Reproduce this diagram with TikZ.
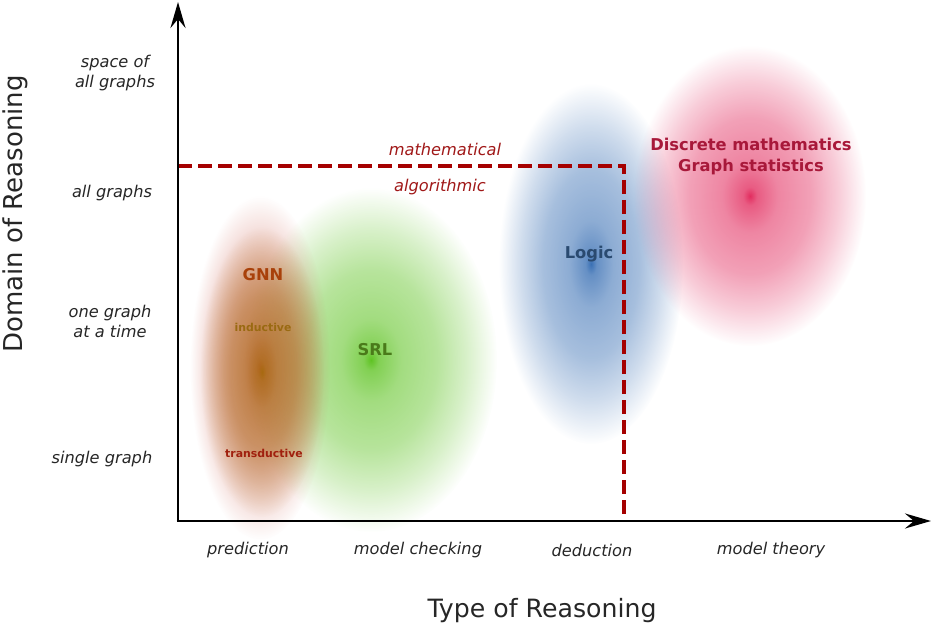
\documentclass[tikz,border=0pt]{standalone}
\usepackage{fontspec}
\setmainfont{DejaVu Sans}
\usetikzlibrary{arrows.meta,fadings}
\pgfdeclareradialshading{blobshade}{\pgfpointorigin}{color(0bp)=(pgftransparent!0); color(1.5bp)=(pgftransparent!22); color(6bp)=(pgftransparent!42); color(13bp)=(pgftransparent!55); color(19bp)=(pgftransparent!76); color(25bp)=(pgftransparent!100); color(50bp)=(pgftransparent!100)}
\pgfdeclarefading{blob}{\pgfuseshading{blobshade}}
\definecolor{dred}{HTML}{A50000}
\definecolor{mathred}{HTML}{A01818}
\definecolor{gnncol}{HTML}{A8400A}
\definecolor{indcol}{HTML}{9A6A12}
\definecolor{trcol}{HTML}{A0200E}
\definecolor{srlcol}{HTML}{4A7A1A}
\definecolor{logcol}{HTML}{2A4A70}
\definecolor{dmcol}{HTML}{A8183A}
\tikzset{
  blobfill/.style={path fading=blob, fit fading=true},
  axis/.style={line width=2.8pt, -{Stealth[length=26pt,width=15pt,inset=9pt]}},
  border/.style={dred, line width=3.6pt, dash pattern=on 14pt off 6pt},
  ylab/.style={font=\fontsize{16.2}{20}\selectfont\itshape, align=center, text=black!85},
  xlab/.style={font=\fontsize{16.2}{20}\selectfont\itshape, text=black!85},
  mlab/.style={font=\fontsize{16.2}{20}\selectfont\itshape, text=mathred},
  big/.style={font=\fontsize{16.3}{20}\selectfont\bfseries},
  small/.style={font=\fontsize{10.9}{13}\selectfont\bfseries},
  title/.style={text=black!85}
}
\begin{document}
\begin{tikzpicture}[x=1pt,y=-1pt]
\useasboundingbox (0,0) rectangle (935,631);
% blobs
\fill[blobfill, color={rgb,255:red,95;green,195;blue,35}] (371,360) ellipse (126 and 172);
\fill[blobfill, color={rgb,255:red,205;green,95;blue,80}] (260,368) ellipse (70 and 172);
\fill[blobfill, color={rgb,255:red,168;green,106;blue,16}] (262,372) ellipse (62 and 145);
\fill[blobfill, color={rgb,255:red,58;green,112;blue,180}] (591,264) ellipse (92 and 180);
\fill[blobfill, color={rgb,255:red,226;green,45;blue,95}] (750,196) ellipse (116 and 150);
% border
\coordinate (dstart) at (178,166);
\coordinate (dcorner) at (624,166);
\coordinate (dend) at (624,519);
\draw[border] (dstart) -- (dcorner) -- (dend);
\node[mlab] (math) at (445,149) {mathematical};
\node[mlab] (algo) at (440,187) {algorithmic};
% blob labels
\node[big, text=gnncol] (gnn) at (263,275) {GNN};
\node[small, text=indcol] (ind) at (263,327) {inductive};
\node[small, text=trcol] (tr) at (264,453) {transductive};
\node[big, text=srlcol] (srl) at (375,350) {SRL};
\node[big, text=logcol] (logic) at (589,254) {Logic};
\node[big, text=dmcol, align=center, font=\fontsize{16.3}{21}\selectfont\bfseries] (dm) at (751,157) {Discrete mathematics\\Graph statistics};
% axes
\coordinate (origin) at (178,521);
\coordinate (ytip) at (178,2);
\coordinate (xtip) at (931,521);
\draw[axis] (origin) -- (ytip);
\draw[axis] ([xshift=-1.4pt]origin) -- (xtip);
% y labels
\node[ylab] (l1) at (115,73) {space of\\all graphs};
\node[ylab] (l2) at (112,193) {all graphs};
\node[ylab] (l3) at (110,321) {one graph\\at a time};
\node[ylab] (l4) at (102,459) {single graph};
% x labels
\node[xlab] (p1) at (248,550) {prediction};
\node[xlab] (p2) at (418,550) {model checking};
\node[xlab] (p3) at (592,550) {deduction};
\node[xlab] (p4) at (771,550) {model theory};
% titles
\node[title, font=\fontsize{25.2}{30}\selectfont] (tx) at (542,611) {Type of Reasoning};
\node[title, font=\fontsize{26}{30}\selectfont, rotate=90] (ty) at (15,214) {Domain of Reasoning};
\end{tikzpicture}
\end{document}
